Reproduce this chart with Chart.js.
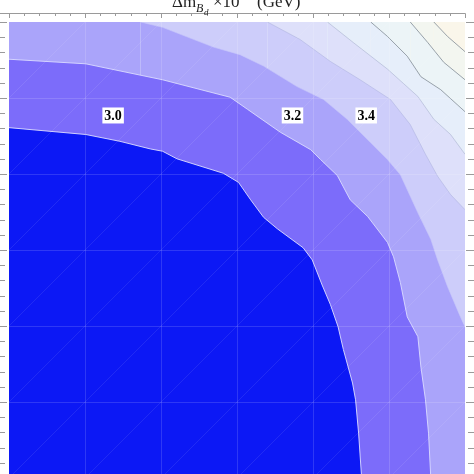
<!DOCTYPE html>
<html>
<head>
<meta charset="utf-8">
<script src="https://cdn.jsdelivr.net/npm/chart.js@4"></script>
<style>
  body { margin: 0; background: #fff; }
  canvas { display: block; }
</style>
</head>
<body>
<canvas id="myChart" width="474" height="474"></canvas>
<script>
// contour lines, in plot units (x 0..6, y 0..6)
const c30 = [[0,4.61],[1.01,4.52],[1.46,4.43],[1.86,4.33],[2.02,4.30],[2.21,4.20],[2.82,4.01],[3.02,3.89],[3.18,3.66],[3.35,3.43],[3.53,3.28],[3.87,3.03],[3.99,2.87],[4.12,2.54],[4.23,2.28],[4.33,1.99],[4.40,1.69],[4.52,1.25],[4.56,1.03],[4.60,0.59],[4.64,0]];
const c32 = [[0,5.51],[1.01,5.45],[2.02,5.24],[2.91,5.01],[3.14,4.85],[3.57,4.55],[3.97,4.32],[4.10,4.19],[4.32,3.98],[4.49,3.66],[4.72,3.44],[4.98,3.10],[5.06,2.91],[5.15,2.57],[5.24,2.12],[5.38,1.86],[5.42,1.46],[5.48,1.03],[5.52,0.59],[5.55,0]];
const c34 = [[0,6],[1.73,6],[2.02,5.93],[2.69,5.67],[3.04,5.57],[3.35,5.42],[3.79,5.15],[4.14,4.98],[4.45,4.72],[4.76,4.41],[4.98,4.19],[5.15,3.99],[5.38,3.49],[5.55,3.14],[5.64,2.87],[5.77,2.52],[5.94,2.12],[6,1.99]];
const c36 = [[0,6],[3.40,6],[3.83,5.77],[4.23,5.48],[4.62,5.24],[5.02,4.98],[5.28,4.65],[5.48,4.26],[5.64,3.97],[5.81,3.73],[6,3.53]];
const c38 = [[0,6],[4.19,6],[4.53,5.73],[4.98,5.38],[5.38,5.02],[5.59,4.72],[5.81,4.52],[6,4.26]];
const c40 = [[0,6],[4.76,6],[4.98,5.81],[5.24,5.55],[5.42,5.28],[5.68,5.11],[6,4.82]];
const c42 = [[0,6],[5.28,6],[5.51,5.73],[5.72,5.47],[6,5.24]];
const c44 = [[0,6],[5.59,6],[5.77,5.81],[6,5.61]];

const contours = [c30, c32, c34, c36, c38, c40, c42, c44];
// colour of the band just below each contour
const bandColors = ['rgb(12,24,245)','rgb(124,108,250)','rgb(170,164,250)','rgb(205,205,250)','rgb(222,224,250)','rgb(230,238,250)','rgb(236,244,247)','rgb(243,246,240)'];
const lineColors = ['rgba(215,215,255,0.95)','rgba(215,215,255,0.95)','rgba(200,200,250,0.6)','rgba(170,175,220,0.5)','rgba(160,170,200,0.5)','rgba(130,140,150,0.8)','rgba(130,140,150,0.8)','rgba(130,140,150,0.8)'];
const topColor = 'rgb(250,246,234)';

const levelLabels = ['3.0', '3.2', '3.4'];
const labelX = [1.37, 3.73, 4.70];
const labelY = [4.77, 4.77, 4.77];

const datasets = contours.map((pts, i) => ({
  data: pts.map(p => ({x: p[0], y: p[1]})),
  showLine: true,
  pointRadius: 0,
  borderWidth: 1,
  borderColor: lineColors[i],
  backgroundColor: bandColors[i],
  fill: 'start',
  order: i + 1,
  segment: {
    borderColor: ctx => (ctx.p0.parsed.y >= 6 && ctx.p1.parsed.y >= 6) ? 'transparent' : undefined
  }
}));

const decor = {
  id: 'decor',
  beforeDatasetsDraw(chart) {
    const {ctx, chartArea: a} = chart;
    ctx.save();
    ctx.fillStyle = topColor;
    ctx.fillRect(a.left, a.top, a.right - a.left, a.bottom - a.top);
    ctx.restore();
  },
  afterDatasetsDraw(chart) {
    const {ctx, chartArea: a, scales: {x, y}} = chart;
    ctx.save();
    ctx.beginPath();
    ctx.rect(a.left, a.top, a.right - a.left, a.bottom - a.top);
    ctx.clip();
    // mesh lines drawn over the fill
    ctx.lineWidth = 1;
    ctx.strokeStyle = 'rgba(255,255,255,0.14)';
    for (let i = 1; i < 6; i++) {
      const px = Math.round(x.getPixelForValue(i)) + 0.5;
      const py = Math.round(y.getPixelForValue(i)) + 0.5;
      ctx.beginPath(); ctx.moveTo(px, a.top); ctx.lineTo(px, a.bottom); ctx.stroke();
      ctx.beginPath(); ctx.moveTo(a.left, py); ctx.lineTo(a.right, py); ctx.stroke();
    }
    ctx.strokeStyle = 'rgba(255,255,255,0.09)';
    for (let k = -6; k <= 6; k++) {
      ctx.beginPath();
      ctx.moveTo(x.getPixelForValue(k), y.getPixelForValue(0));
      ctx.lineTo(x.getPixelForValue(k + 7), y.getPixelForValue(7));
      ctx.stroke();
    }
    ctx.restore();

    // contour labels
    ctx.save();
    ctx.font = 'bold 14px "Liberation Serif"';
    ctx.textAlign = 'center';
    ctx.textBaseline = 'middle';
    levelLabels.forEach((t, i) => {
      const px = x.getPixelForValue(labelX[i]);
      const py = y.getPixelForValue(labelY[i]);
      const w = ctx.measureText(t).width + 4;
      ctx.fillStyle = '#fff';
      ctx.fillRect(px - w / 2, py - 8, w, 16);
      ctx.fillStyle = '#000';
      ctx.fillText(t, px, py + 1);
    });
    ctx.restore();
  },
  afterDraw(chart) {
    const {ctx, scales: {x, y}} = chart;
    ctx.save();
    ctx.strokeStyle = '#9a9a9a';
    ctx.lineWidth = 1;
    // top frame with ticks
    ctx.beginPath();
    ctx.moveTo(0, 13.5);
    ctx.lineTo(x.getPixelForValue(6) + 0.5, 13.5);
    ctx.stroke();
    for (let i = 0; i <= 30; i++) {
      const v = i / 5;
      const major = i % 5 === 0;
      const px = Math.round(x.getPixelForValue(v)) + 0.5;
      ctx.beginPath(); ctx.moveTo(px, 13.5); ctx.lineTo(px, major ? 18 : 16); ctx.stroke();
    }
    // side ticks
    for (let i = 0; i <= 30; i++) {
      const v = i / 5;
      const major = i % 5 === 0;
      const py = Math.round(y.getPixelForValue(v)) + 0.5;
      ctx.beginPath(); ctx.moveTo(0, py); ctx.lineTo(major ? 7 : 5, py); ctx.stroke();
      ctx.beginPath(); ctx.moveTo(474, py); ctx.lineTo(major ? 466 : 468, py); ctx.stroke();
    }
    // title, mostly cut off at the top
    ctx.fillStyle = '#222';
    ctx.textBaseline = 'alphabetic';
    ctx.font = '17px "Liberation Serif"';
    ctx.fillText('\u0394m', 172, 7);
    ctx.font = 'italic 12px "Liberation Serif"';
    ctx.fillText('B', 196, 12);
    ctx.font = 'italic 9px "Liberation Serif"';
    ctx.fillText('d', 204, 15);
    ctx.font = '17px "Liberation Serif"';
    ctx.fillText('\u00d710', 213, 7);
    ctx.font = '12px "Liberation Serif"';
    ctx.fillText('\u221213', 241, -2);
    ctx.font = '17px "Liberation Serif"';
    ctx.fillText('(GeV)', 257, 7);
    ctx.restore();
  }
};

const ctx = document.querySelector('#myChart').getContext('2d');
const myChart = new Chart(ctx, {
  type: 'scatter',
  data: { datasets },
  options: {
    responsive: false,
    animation: false,
    layout: { padding: { left: 9, right: 9, top: 22, bottom: 0 } },
    plugins: { legend: { display: false }, tooltip: { enabled: false } },
    scales: {
      x: { type: 'linear', min: 0, max: 6, display: false },
      y: { type: 'linear', min: 0.053, max: 6, display: false }
    }
  },
  plugins: [decor]
});
</script>
</body>
</html>
